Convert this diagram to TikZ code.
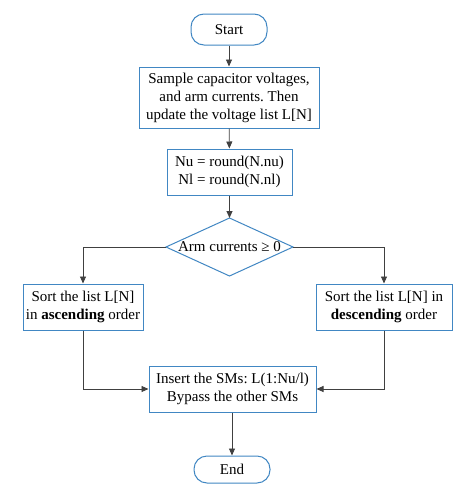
\documentclass[tikz,border=0pt]{standalone}
\usepackage{fontspec}
\setmainfont{Liberation Serif}
\usetikzlibrary{arrows.meta}
\definecolor{bblue}{RGB}{65,135,195}
\definecolor{lgray}{RGB}{64,64,64}
\frenchspacing
\begin{document}
\begin{tikzpicture}[x=1pt,y=-1pt,
  box/.style={draw=bblue,line width=1pt,fill=white,inner sep=0pt,align=center,font=\fontsize{15}{18}\selectfont},
  term/.style={box,rounded corners=13pt},
  conn/.style={draw=lgray,line width=0.9pt,-{Triangle[width=6pt,length=7pt]}},
  plain/.style={draw=lgray,line width=0.9pt}]
\useasboundingbox (0,0) rectangle (474,493);
\node[term,minimum width=76pt,minimum height=31pt] (start) at (229,29.5) {Start};
\node[box,minimum width=180pt,minimum height=61pt] (s1) at (229,97.5) {Sample capacitor voltages,\\and arm currents. Then\\update the voltage list L[N]};
\node[box,minimum width=125pt,minimum height=46pt] (s2) at (229.5,172) {Nu = round(N.nu)\\Nl = round(N.nl)};
\coordinate (dt) at (229.5,218);
\coordinate (db) at (229.5,276);
\coordinate (dl) at (166,247);
\coordinate (dr) at (293,247);
\draw[bblue,line width=1pt,fill=white] (dt) -- (dr) -- (db) -- (dl) -- cycle;
\node[inner sep=0pt,font=\fontsize{15}{18}\selectfont] (dia) at (229.5,247) {Arm currents ≥ 0};
\node[box,minimum width=120pt,minimum height=46pt] (left) at (83,307) {Sort the list L[N]\\in \textbf{ascending} order};
\node[box,minimum width=136pt,minimum height=46pt] (right) at (384,307) {Sort the list L[N] in\\\textbf{descending} order};
\node[box,minimum width=167pt,minimum height=46pt] (ins) at (232.5,389) {Insert the SMs: L(1:Nu/l)\\Bypass the other SMs};
\node[term,minimum width=76pt,minimum height=27pt] (end) at (232,469.5) {End};
\draw[conn] (start) -- (s1);
\draw[conn] (s1) -- (s2);
\draw[conn] (s2.south) -- (dt);
\draw[conn] (dl) -| (left.north);
\draw[conn] (dr) -| (right.north);
\draw[conn] (left.south) |- (ins.west);
\draw[conn] (right.south) |- (ins.east);
\draw[conn] (ins.south -| end.north) -- (end.north);
\end{tikzpicture}
\end{document}
